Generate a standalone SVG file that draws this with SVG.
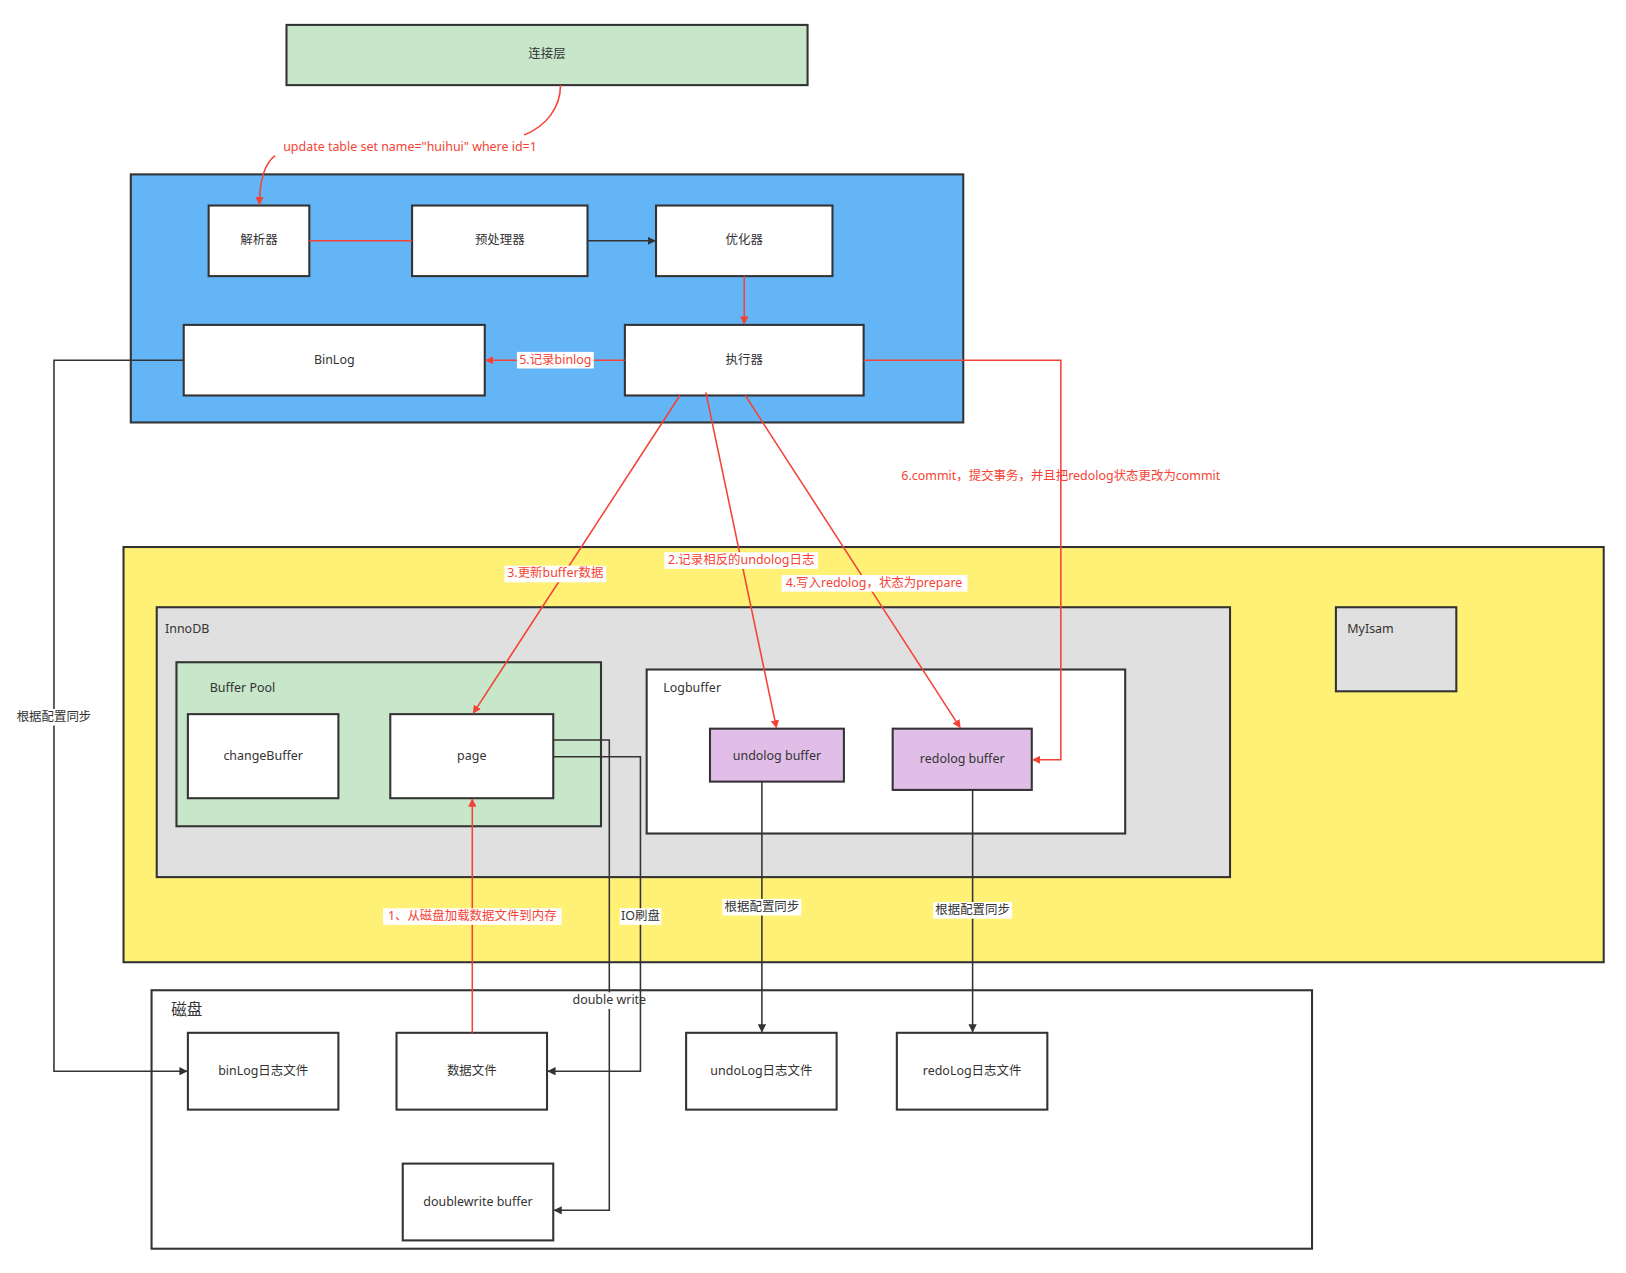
<svg xmlns="http://www.w3.org/2000/svg" width="1626" height="1273" viewBox="0 0 1626 1273">
<style>
.n{stroke:#333;stroke-width:2}
text{font-family:"Noto Sans","Noto Sans CJK SC",sans-serif;font-size:12px;fill:#333}
.c{text-anchor:middle;dominant-baseline:middle}
.r{fill:#f44336}
.lr{stroke:#f44336;stroke-width:1.5;fill:none}
.lb{stroke:#333;stroke-width:1.5;fill:none}
.bg{fill:#fff}
</style>
<defs>
<marker id="ar" viewBox="0 0 10 10" refX="9" refY="5" markerWidth="8" markerHeight="8" orient="auto" markerUnits="userSpaceOnUse"><path d="M0,0L10,5L0,10z" fill="#f44336"/></marker>
<marker id="ab" viewBox="0 0 10 10" refX="9" refY="5" markerWidth="8" markerHeight="8" orient="auto" markerUnits="userSpaceOnUse"><path d="M0,0L10,5L0,10z" fill="#333"/></marker>
</defs>
<rect width="1626" height="1273" fill="#fff"/>
<g transform="scale(1.038)">
<g id="conn-layer"><rect class="n" x="276" y="24" width="502" height="58" fill="#c8e6c9"/><text class="c" x="527" y="53">连接层</text></g>
<g id="server"><rect class="n" x="126" y="168" width="802" height="239" fill="#64b5f6"/></g>
<g id="yellow"><rect class="n" x="119" y="527" width="1426" height="400" fill="#fff176"/></g>
<g id="innodb"><rect class="n" x="151" y="585" width="1034" height="260" fill="#e0e0e0"/><text x="159" y="610">InnoDB</text></g>
<g id="myisam"><rect class="n" x="1287" y="585" width="116" height="81" fill="#e0e0e0"/><text x="1298" y="610">MyIsam</text></g>
<g id="bufferpool"><rect class="n" x="170" y="638" width="409" height="158" fill="#c8e6c9"/><text x="202" y="667">Buffer Pool</text></g>
<g id="logbuffer"><rect class="n" x="623" y="645" width="461" height="158" fill="#fff"/><text x="639" y="667">Logbuffer</text></g>
<g id="disk"><rect class="n" x="146" y="954" width="1118" height="249" fill="#fff"/><text x="165" y="978" style="font-size:15px">磁盘</text></g>
<g id="parser"><rect class="n" x="201" y="198" width="97" height="68" fill="#fff"/><text class="c" x="249.5" y="232">解析器</text></g>
<g id="preproc"><rect class="n" x="397" y="198" width="169" height="68" fill="#fff"/><text class="c" x="481.5" y="232">预处理器</text></g>
<g id="optimizer"><rect class="n" x="632" y="198" width="170" height="68" fill="#fff"/><text class="c" x="717" y="232">优化器</text></g>
<g id="binlog"><rect class="n" x="177" y="313" width="290" height="68" fill="#fff"/><text class="c" x="322" y="347">BinLog</text></g>
<g id="executor"><rect class="n" x="602" y="313" width="230" height="68" fill="#fff"/><text class="c" x="717" y="347">执行器</text></g>
<g id="changebuffer"><rect class="n" x="181" y="688" width="145" height="81" fill="#fff"/><text class="c" x="253.5" y="729">changeBuffer</text></g>
<g id="page"><rect class="n" x="376" y="688" width="157" height="81" fill="#fff"/><text class="c" x="454.5" y="729">page</text></g>
<g id="undobuf"><rect class="n" x="684" y="702" width="129" height="51" fill="#e1bee7"/><text class="c" x="748.5" y="729">undolog buffer</text></g>
<g id="redobuf"><rect class="n" x="860" y="702" width="134" height="59" fill="#e1bee7"/><text class="c" x="927" y="732">redolog buffer</text></g>
<g id="binfile"><rect class="n" x="181" y="995" width="145" height="74" fill="#fff"/><text class="c" x="253.5" y="1032">binLog日志文件</text></g>
<g id="datafile"><rect class="n" x="382" y="995" width="145" height="74" fill="#fff"/><text class="c" x="454.5" y="1032">数据文件</text></g>
<g id="undofile"><rect class="n" x="661" y="995" width="145" height="74" fill="#fff"/><text class="c" x="733.5" y="1032">undoLog日志文件</text></g>
<g id="redofile"><rect class="n" x="864" y="995" width="145" height="74" fill="#fff"/><text class="c" x="936.5" y="1032">redoLog日志文件</text></g>
<g id="dwbuf"><rect class="n" x="388" y="1121" width="145" height="74" fill="#fff"/><text class="c" x="460.5" y="1159">doublewrite buffer</text></g>
<g id="connectors">
<path class="lr" d="M540,82 C540,105 525,122 505,130"/>
<path class="lr" d="M265,150 C252,160 250,180 250,197" marker-end="url(#ar)"/>
<text class="c r" x="395" y="142">update table set name="huihui" where id=1</text>
<path class="lr" d="M298,232H397"/>
<path class="lb" d="M566,232H631" marker-end="url(#ab)"/>
<path class="lr" d="M717,266V312" marker-end="url(#ar)"/>
<path class="lr" d="M602,347H468" marker-end="url(#ar)"/>
<rect class="bg" x="498" y="339" width="74" height="16"/><text class="c r" x="535" y="347">5.记录binlog</text>
<path class="lb" d="M177,347H52V1032H180" marker-end="url(#ab)"/>
<rect class="bg" x="14" y="683" width="76" height="16"/><text class="c" x="52" y="691">根据配置同步</text>
<path class="lr" d="M832,347H1022V732H995" marker-end="url(#ar)"/>
<text class="c r" x="1022" y="459">6.commit，提交事务，并且把redolog状态更改为commit</text>
<path class="lr" d="M655,381L456,687" marker-end="url(#ar)"/>
<rect class="bg" x="486" y="545" width="98" height="16"/><text class="c r" x="535" y="553">3.更新buffer数据</text>
<path class="lr" d="M680,378L748,701" marker-end="url(#ar)"/>
<rect class="bg" x="640" y="532" width="148" height="16"/><text class="c r" x="714" y="540">2.记录相反的undolog日志</text>
<path class="lr" d="M718,381L925,701" marker-end="url(#ar)"/>
<rect class="bg" x="753" y="554" width="179" height="16"/><text class="c r" x="842" y="562">4.写入redolog，状态为prepare</text>
<path class="lr" d="M455,995V770" marker-end="url(#ar)"/>
<rect class="bg" x="369" y="875" width="172" height="16"/><text class="c r" x="455" y="883">1、从磁盘加载数据文件到内存</text>
<path class="lb" d="M533,713H587V1166H534" marker-end="url(#ab)"/>
<rect class="bg" x="550" y="956" width="74" height="16"/><text class="c" x="587" y="964">double write</text>
<path class="lb" d="M533,729H617V1032H528" marker-end="url(#ab)"/>
<rect class="bg" x="597" y="875" width="40" height="16"/><text class="c" x="617" y="883">IO刷盘</text>
<path class="lb" d="M734,753V994" marker-end="url(#ab)"/>
<rect class="bg" x="696" y="866" width="76" height="16"/><text class="c" x="734" y="874">根据配置同步</text>
<path class="lb" d="M937,761V994" marker-end="url(#ab)"/>
<rect class="bg" x="899" y="869" width="76" height="16"/><text class="c" x="937" y="877">根据配置同步</text>
</g>
</g>
</svg>
